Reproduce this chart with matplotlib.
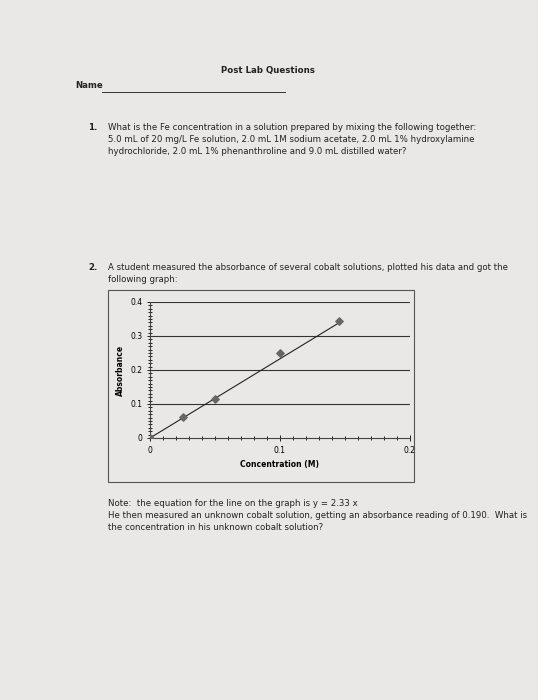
import matplotlib
matplotlib.use("Agg")
import matplotlib.pyplot as plt
from matplotlib.patches import Rectangle
from matplotlib.lines import Line2D

conc = [0.0, 0.025, 0.05, 0.1, 0.145]
absorb = [0.0, 0.062, 0.115, 0.25, 0.345]
slope = 2.33
line_x = [0.0, 0.145]
yticks = [0, 0.1, 0.2, 0.3, 0.4]
yticklabels = ["0", "0.1", "0.2", "0.3", "0.4"]
xticks = [0, 0.1, 0.2]
xticklabels = ["0", "0.1", "0.2"]

W, H = 538, 700
fig = plt.figure(figsize=(W/100, H/100), dpi=100)
fig.patch.set_facecolor("#e9e8e6")
def T(x, y, s, **kw):
    kw.setdefault("fontsize", 6.2)
    fig.text(x/W, 1-y/H, s, va="center", color="#222222", **kw)

T(268, 70, "Post Lab Questions", ha="center", fontweight="bold")
T(75, 86, "Name", fontweight="bold")
fig.add_artist(Line2D([102/W, 285/W], [1-92/H, 1-92/H], color="#333", lw=0.7))
T(88, 127, "1.", fontweight="bold")
T(108, 127, "What is the Fe concentration in a solution prepared by mixing the following together:")
T(108, 139, "5.0 mL of 20 mg/L Fe solution, 2.0 mL 1M sodium acetate, 2.0 mL 1% hydroxylamine")
T(108, 151, "hydrochloride, 2.0 mL 1% phenanthroline and 9.0 mL distilled water?")
T(88, 267, "2.", fontweight="bold")
T(108, 267, "A student measured the absorbance of several cobalt solutions, plotted his data and got the")
T(108, 279, "following graph:")
T(108, 503, "Note:  the equation for the line on the graph is y = 2.33 x")
T(108, 515, "He then measured an unknown cobalt solution, getting an absorbance reading of 0.190.  What is")
T(108, 527, "the concentration in his unknown cobalt solution?")

fig.add_artist(Rectangle((108/W, 1-482/H), 306/W, 192/H, fill=False, ec="#555", lw=0.8, transform=fig.transFigure))

ax = fig.add_axes([150/W, 1-438/H, 260/W, 136/H])
ax.set_facecolor("none")
ax.set_xlim(0, 0.2)
ax.set_ylim(0, 0.4)
for y in yticks[1:]:
    ax.axhline(y, color="#333", lw=0.8)
ax.plot(line_x, [slope*x for x in line_x], color="#222", lw=0.8)
ax.scatter(conc, absorb, marker="D", s=14, color="#666", zorder=3)
for s in ["top", "right"]:
    ax.spines[s].set_visible(False)
ax.spines["left"].set_color("#444")
ax.spines["bottom"].set_color("#444")
ax.set_yticks(yticks)
ax.set_yticklabels(yticklabels, fontsize=5.5)
ax.set_xticks(xticks)
ax.set_xticklabels(xticklabels, fontsize=5.5)
ax.set_xticks([i*0.01 for i in range(21)], minor=True)
ax.set_yticks([i*0.01 for i in range(41)], minor=True)
ax.tick_params(which="both", direction="inout", length=4, width=0.6)
ax.tick_params(which="minor", length=3)
ax.set_xlabel("Concentration (M)", fontsize=5.5, fontweight="bold")
ax.set_ylabel("Absorbance", fontsize=5.5, fontweight="bold")
fig.savefig("out.png", dpi=100, facecolor=fig.get_facecolor())
